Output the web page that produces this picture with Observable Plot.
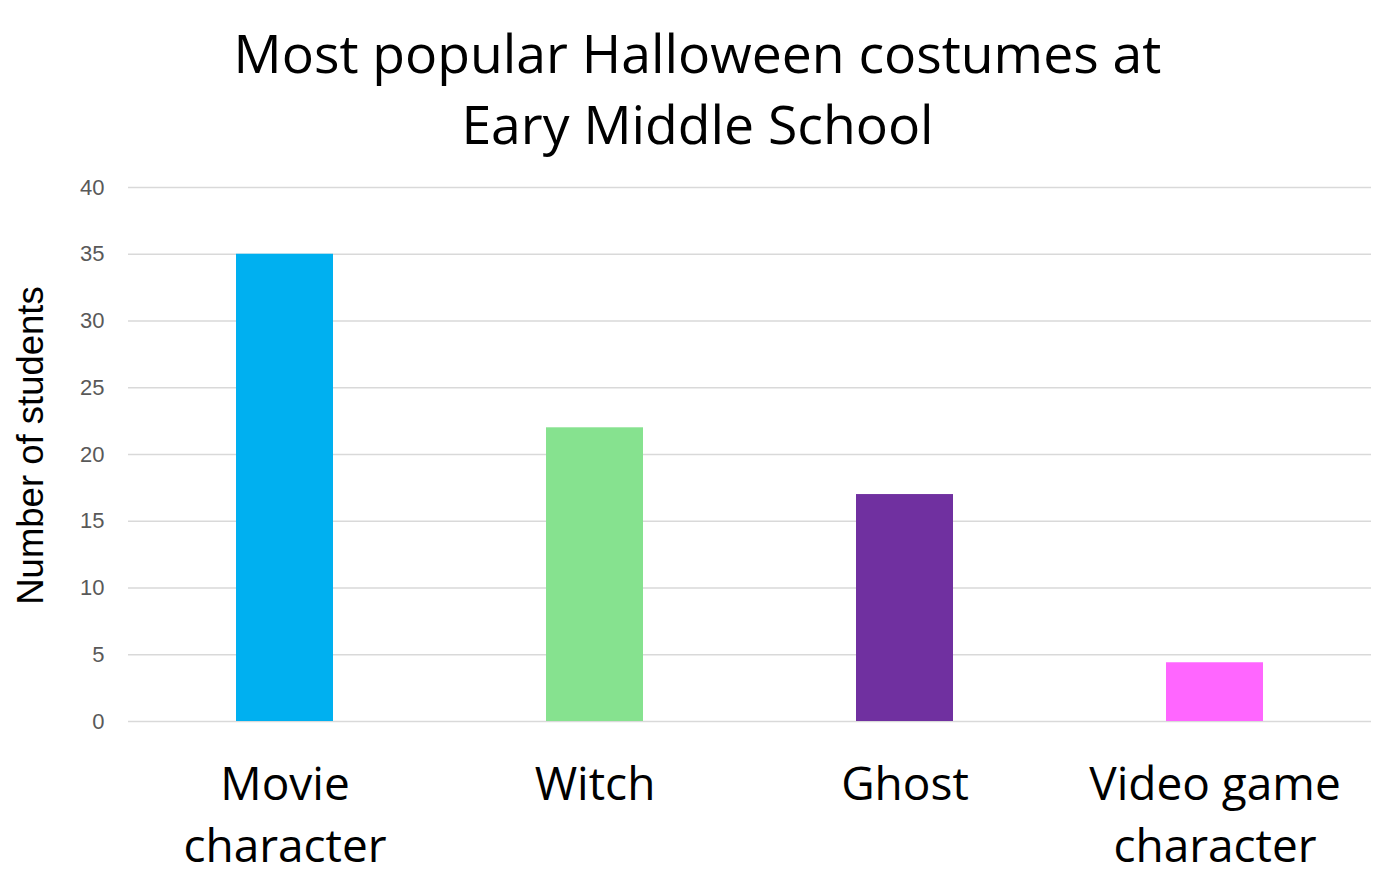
<!DOCTYPE html>
<html>
<head>
<meta charset="utf-8">
<script src="https://cdn.jsdelivr.net/npm/d3@7"></script>
<script src="https://cdn.jsdelivr.net/npm/@observablehq/plot@0.6"></script>
<style>
  html, body { margin: 0; padding: 0; background: #fff; }
  #wrap { position: relative; width: 1395px; height: 889px; }
  #title { position: absolute; left: 0; top: 17px; width: 1395px; text-align: center;
    font-family: "Open Sans", sans-serif; font-size: 53.5px; line-height: 71px; color: #000; }
  #chart { position: absolute; left: 0; top: 0; }
</style>
</head>
<body>
<div id="wrap">
  <div id="chart"></div>
  <div id="title">Most popular Halloween costumes at<br>Eary Middle School</div>
</div>
<script>
const categories = ["Movie character", "Witch", "Ghost", "Video game character"];
const categoryLabels = ["Movie\ncharacter", "Witch", "Ghost", "Video game\ncharacter"];
const values = [35, 22, 17, 4.4];
const colors = ["#00b0f0", "#86e28f", "#7030a0", "#ff66ff"];
const yTicks = [0, 5, 10, 15, 20, 25, 30, 35, 40];
const yLabel = "Number of students";

const data = categories.map((c, i) => ({category: c, value: values[i], color: colors[i]}));
const labelOf = new Map(categories.map((c, i) => [c, categoryLabels[i]]));

const plot = Plot.plot({
  width: 1395,
  height: 889,
  marginTop: 187,
  marginBottom: 168,
  marginLeft: 128,
  marginRight: 24,
  style: {background: "transparent", overflow: "visible"},
  x: {domain: categories, paddingInner: 0.688, paddingOuter: 0.344, label: null},
  y: {domain: [0, 40], label: null},
  marks: [
    Plot.ruleY(yTicks, {stroke: "#d9d9d9", strokeWidth: 1.5}),
    Plot.barY(data, {x: "category", y: "value", fill: "color"}),
    Plot.axisY({
      ticks: yTicks, tickSize: 0, tickPadding: 24, label: null,
      fontSize: 22, fill: "#595959", fontFamily: "Liberation Sans, Arial, sans-serif"
    }),
    Plot.axisX({
      tickSize: 0, tickPadding: 35, label: null,
      tickFormat: d => labelOf.get(d),
      fontSize: 46, lineHeight: 1.34, fill: "#000", fontFamily: "Open Sans, sans-serif"
    }),
    Plot.text([yLabel], {
      frameAnchor: "left", dx: -97, dy: -9, rotate: -90, fontSize: 36.5, textAnchor: "middle",
      fill: "#000", fontFamily: "Liberation Sans, Arial, sans-serif"
    })
  ]
});
document.getElementById("chart").appendChild(plot);
</script>
</body>
</html>
